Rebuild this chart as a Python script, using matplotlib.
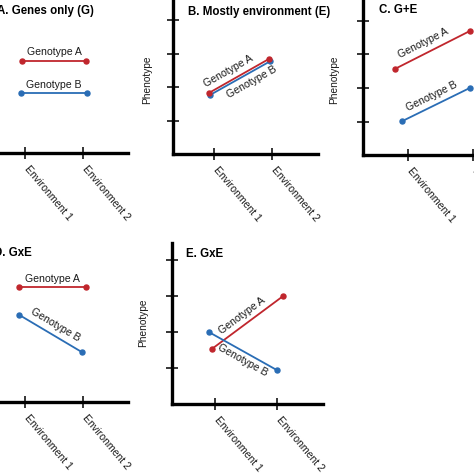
import numpy as np
import matplotlib
matplotlib.use("Agg")
import matplotlib.pyplot as plt

plt.rcParams['font.family'] = ['Liberation Sans', 'DejaVu Sans']

environments = ["Environment 1", "Environment 2"]
genotypes = ["Genotype A", "Genotype B"]
titles = ["A. Genes only (G)", "B. Mostly environment (E)", "C. G+E", "D. GxE", "E. GxE"]

# phenotype values (env 1 = 1, env 2 = 2)
a_xA = [0.95, 2.05]; a_yA = [2.75, 2.75]
a_xB = [0.93, 2.07]; a_yB = [1.79, 1.79]
b_xA = [0.92, 1.95]; b_yA = [1.83, 2.84]
b_xB = [0.93, 1.97]; b_yB = [1.76, 2.77]
c_xA = [0.80, 1.95]; c_yA = [2.57, 3.70]
c_xB = [0.91, 1.95]; c_yB = [1.01, 2.00]
d_xA = [0.90, 2.05]; d_yA = [3.43, 3.43]
d_xB = [0.90, 1.98]; d_yB = [2.60, 1.49]
e_xA = [0.95, 2.10]; e_yA = [1.53, 3.00]
e_xB = [0.90, 2.00]; e_yB = [2.00, 0.94]

RED = '#c0262d'
BLUE = '#2a6db5'
W = H = 474

fig = plt.figure(figsize=(4.74, 4.74), dpi=100)


def panel(left, xaxis, right, top, env1, ux, uy):
    ax = fig.add_axes([left / W, 1 - xaxis / H, (right - left) / W, (xaxis - top) / H])
    x0 = 1 - (env1 - left) / ux
    ax.set_xlim(x0, x0 + (right - left) / ux)
    ax.set_ylim(0, (xaxis - top) / uy)
    ax.patch.set_visible(False)
    for s in ['top', 'right']:
        ax.spines[s].set_visible(False)
    for s in ['left', 'bottom']:
        ax.spines[s].set_linewidth(2.4)
    ax.set_xticks([1, 2], [])
    ax.set_yticks([1, 2, 3, 4], [])
    ax.tick_params(direction='inout', length=8.5, width=1.1)
    # environment names hang down-right from each tick
    for i, env in enumerate(environments):
        ax.annotate(env, xy=(i + 1, 0), xycoords=('data', 'axes fraction'),
                    xytext=(5, -11), textcoords='offset pixels',
                    rotation=-50, rotation_mode='anchor', ha='left', va='top',
                    fontsize=7.6, color='#1a1a1a', annotation_clip=False)
    return ax


def genotype(ax, x, y, color, name, t=0.5, side=1, gap=8.5):
    ax.plot(x, y, color=color, lw=1.3, marker='o', ms=3.6, clip_on=False)
    p0 = ax.transData.transform((x[0], y[0]))
    p1 = ax.transData.transform((x[1], y[1]))
    ang = np.degrees(np.arctan2(p1[1] - p0[1], p1[0] - p0[0]))
    a = np.radians(ang)
    xm = x[0] + t * (x[1] - x[0])
    ym = y[0] + t * (y[1] - y[0])
    off = (-np.sin(a) * gap * side, np.cos(a) * gap * side)
    ax.annotate(name, xy=(xm, ym), xytext=off, textcoords='offset pixels',
                rotation=ang, rotation_mode='anchor', ha='center', va='center',
                fontsize=7.6, color='#1a1a1a')


def ylabel(x, y):
    fig.text(x / W, 1 - y / H, "Phenotype", rotation=90, ha='center', va='center',
             fontsize=7.3, color='#1a1a1a')


def title(x, y, s):
    fig.text(x / W, 1 - y / H, s, ha='left', va='center', fontsize=8.3,
             fontweight='bold')


axA = panel(-16, 153, 128, -10, 25, 58, 33.5)
genotype(axA, a_xA, a_yA, RED, genotypes[0])
genotype(axA, a_xB, a_yB, BLUE, genotypes[1])

axB = panel(173, 154, 318, -10, 214, 58, 33.5)
genotype(axB, b_xB, b_yB, BLUE, genotypes[1], t=0.62, side=-1, gap=9)
genotype(axB, b_xA, b_yA, RED, genotypes[0], t=0.4, side=1, gap=9)

axC = panel(363, 155, 490, -10, 408, 65, 33.5)
genotype(axC, c_xA, c_yA, RED, genotypes[0], t=0.44, gap=10)
genotype(axC, c_xB, c_yB, BLUE, genotypes[1], gap=9)

axD = panel(-16, 402, 128, 243, 25, 58, 33.5)
genotype(axD, d_xA, d_yA, RED, genotypes[0])
genotype(axD, d_xB, d_yB, BLUE, genotypes[1], gap=10)

axE = panel(172, 404, 323, 243, 215, 62, 36)
genotype(axE, e_xA, e_yA, RED, genotypes[0], gap=9)
genotype(axE, e_xB, e_yB, BLUE, genotypes[1], t=0.55, side=-1, gap=8)

ylabel(147, 80)
ylabel(334, 80)
ylabel(143, 323)

title(-3, 11, titles[0])
title(188, 12, titles[1])
title(379, 10, titles[2])
title(-6, 253, titles[3])
title(186, 254, titles[4])

fig.savefig("out.png", dpi=100)
